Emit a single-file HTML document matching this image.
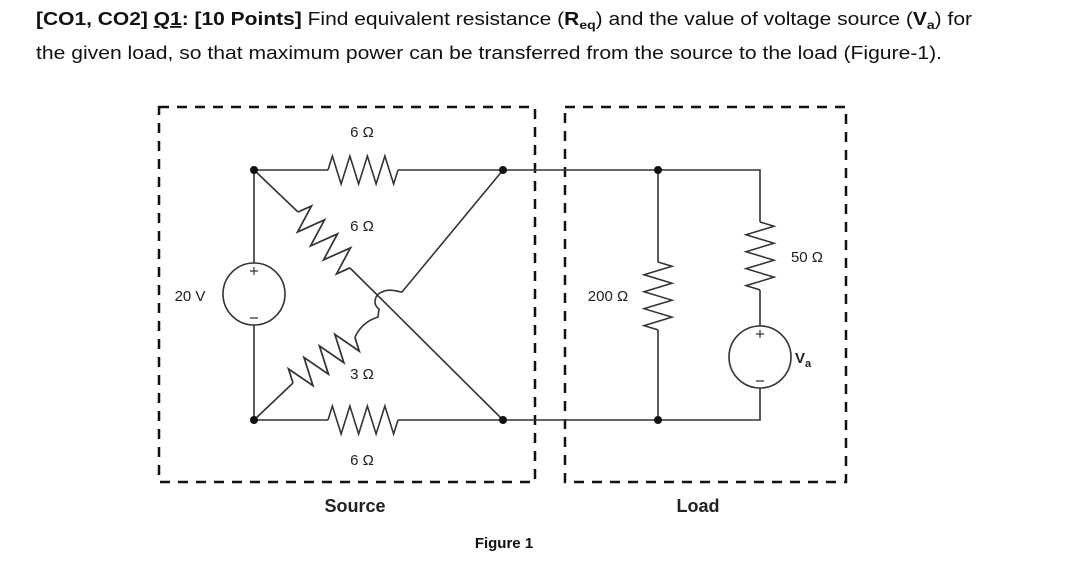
<!DOCTYPE html>
<html><head><meta charset="utf-8"><style>
html,body{margin:0;padding:0;background:#fff;}
svg{display:block;}
.t{font-family:"Liberation Sans",sans-serif;font-size:18px;fill:#111;}
.l{font-family:"Liberation Sans",sans-serif;font-size:15px;fill:#222;}
</style></head><body>
<svg width="1070" height="575" viewBox="0 0 1070 575" xmlns="http://www.w3.org/2000/svg">
<text class="t" x="36" y="25" textLength="936" lengthAdjust="spacingAndGlyphs"><tspan font-weight="bold">[CO1, CO2] <tspan text-decoration="underline">Q1</tspan>: [10 Points]</tspan> Find equivalent resistance (<tspan font-weight="bold">R<tspan font-size="12" dy="4">eq</tspan></tspan><tspan dy="-4">) and the value of voltage source (</tspan><tspan font-weight="bold">V<tspan font-size="12" dy="4">a</tspan></tspan><tspan dy="-4">) for</tspan></text>
<text class="t" x="36" y="59" textLength="906" lengthAdjust="spacingAndGlyphs">the given load, so that maximum power can be transferred from the source to the load (Figure-1).</text>

<g fill="none" stroke="#111" stroke-width="2.5" stroke-dasharray="10,8">
<rect x="159" y="107" width="376" height="375"/>
<rect x="565" y="107" width="281" height="375"/>
</g>

<g fill="none" stroke="#333" stroke-width="1.6" stroke-linejoin="miter">
<path d="M254,170 H328 M398,170 H760 V222 M760,290 V326 M760,388 V420 H398 M328,420 H254 M254,170 V263 M254,325 V420"/>
<g transform="translate(328,170)"><path d="M0,0 l4.375,-14 l8.75,28 l8.75,-28 l8.75,28 l8.75,-28 l8.75,28 l8.75,-28 l8.75,28 l4.375,-14"/></g>
<g transform="translate(328,420)"><path d="M0,0 l4.375,-14 l8.75,28 l8.75,-28 l8.75,28 l8.75,-28 l8.75,28 l8.75,-28 l8.75,28 l4.375,-14"/></g>
<path d="M254,170 L298,212 M350,268 L503,420"/>
<g transform="translate(298,212) rotate(47) scale(1.09,1)"><path d="M0,0 l4.375,-14 l8.75,28 l8.75,-28 l8.75,28 l8.75,-28 l8.75,28 l8.75,-28 l8.75,28 l4.375,-14"/></g>
<path d="M254,420 L293,383"/>
<g transform="translate(293,383) rotate(-36.6) scale(1.1,1)"><path d="M0,0 l4.375,-14 l8.75,28 l8.75,-28 l8.75,28 l8.75,-28 l8.75,28 l8.75,-28 l8.75,28 l4.375,-14"/></g>
<path d="M355,337 Q362,322 378,317 L379,309 C372,304 375,294 382,292 C390,288 398,292 402,292 L503,170"/>
<path d="M658,170 V262 M658,330 V420"/>
<g transform="translate(658,262) rotate(90) scale(0.97,1)"><path d="M0,0 l4.375,-14 l8.75,28 l8.75,-28 l8.75,28 l8.75,-28 l8.75,28 l8.75,-28 l8.75,28 l4.375,-14"/></g>
<g transform="translate(760,222) rotate(90) scale(0.97,1)"><path d="M0,0 l4.375,-14 l8.75,28 l8.75,-28 l8.75,28 l8.75,-28 l8.75,28 l8.75,-28 l8.75,28 l4.375,-14"/></g>
<circle cx="254" cy="294" r="31"/>
<circle cx="760" cy="357" r="31"/>
<path d="M254,267 v8 M250,271 h8 M250,318 h8 M760,330 v8 M756,334 h8 M756,381 h8" stroke-width="1.2"/>
</g>
<g fill="#111">
<circle cx="254" cy="170" r="4"/><circle cx="503" cy="170" r="4"/>
<circle cx="254" cy="420" r="4"/><circle cx="503" cy="420" r="4"/>
<circle cx="658" cy="170" r="4"/><circle cx="658" cy="420" r="4"/>
</g>
<g class="l" text-anchor="middle">
<text x="362" y="137">6 Ω</text>
<text x="362" y="231">6 Ω</text>
<text x="362" y="379">3 Ω</text>
<text x="362" y="465">6 Ω</text>
<text x="190" y="301">20 V</text>
<text x="608" y="301">200 Ω</text>
<text x="807" y="262">50 Ω</text>
</g>
<text class="l" x="795" y="363" font-weight="bold">V<tspan font-size="11" dy="4">a</tspan></text>
<text x="355" y="512" text-anchor="middle" font-family="Liberation Sans,sans-serif" font-size="18" font-weight="bold" fill="#222">Source</text>
<text x="698" y="512" text-anchor="middle" font-family="Liberation Sans,sans-serif" font-size="18" font-weight="bold" fill="#222">Load</text>
<text x="504" y="548" text-anchor="middle" font-family="Liberation Sans,sans-serif" font-size="15" font-weight="bold" fill="#111">Figure 1</text>
</svg>
</body></html>
